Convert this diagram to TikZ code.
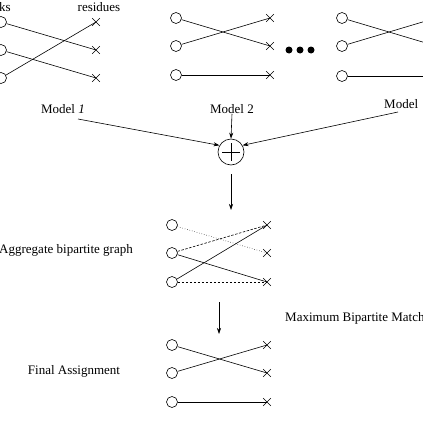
\documentclass[tikz,border=0pt]{standalone}
\usepackage{fontspec}
\setmainfont{Liberation Serif}
\usetikzlibrary{shapes.misc,arrows.meta}
\begin{document}
\begin{tikzpicture}[x=1pt,y=-1pt,
  res/.style={circle,draw,line width=0.6pt,inner sep=0pt,minimum size=11pt},
  aa/.style={cross out,draw,line width=0.6pt,inner sep=0pt,minimum size=7pt},
  lbl/.style={font=\fontsize{13}{15}\selectfont,inner sep=0pt},
  edge/.style={line width=0.6pt},
  arr/.style={line width=0.6pt,-{Stealth[length=6pt,width=4pt]}},
  dot/.style={circle,fill,inner sep=0pt,minimum size=7pt}]
\useasboundingbox (0,0) rectangle (423,423);
\clip (0,0) rectangle (423,423);
% group 1
\foreach \i/\y in {1/22,2/50,3/78}{
  \node[res] (a\i) at (1,\y) {};
  \node[aa] (b\i) at (96,\y) {};}
\node[lbl,anchor=base west] (lks) at (-1,12) {ks};
\node[lbl,anchor=base] (lres) at (99,12) {residues};
\draw[edge] (a1) -- (b2.center);
\draw[edge] (a2) -- (b3.center);
\draw[edge] (a3) -- (b1.center);
% group 2
\foreach \i/\y in {1/18,2/46,3/75}{
  \node[res] (c\i) at (176,\y) {};
  \node[aa] (d\i) at (270,\y) {};}
\draw[edge] (c1) -- (d2.center);
\draw[edge] (c2) -- (d1.center);
\draw[edge] (c3) -- (d3.center);
% dots
\node[dot] (p1) at (289,50) {};
\node[dot] (p2) at (300,50) {};
\node[dot] (p3) at (311,50) {};
% group 3
\foreach \i/\y in {1/18,2/46,3/76}{
  \node[res] (e\i) at (342,\y) {};
  \coordinate (f\i) at (436,\y);}
\draw[edge] (e1) -- (f2);
\draw[edge] (e2) -- (f1);
\draw[edge] (e3) -- (f3);
% model labels
\node[lbl] (m1) at (63,109) {Model \textit{1}};
\node[lbl] (m2) at (232,109) {Model 2};
\node[lbl,anchor=west] (m3) at (384,104) {Model};
\node[circle,draw,line width=0.6pt,minimum size=26pt,inner sep=0pt] (plus) at (231,152) {};
\draw[line width=0.6pt] (plus.center) ++(-9,0) -- ++(18,0);
\draw[line width=0.6pt] (plus.center) ++(0,-9) -- ++(0,18);
\coordinate (s1) at (78,119);
\coordinate (s3) at (398,112);
\draw[arr] (s1) -- (plus.150);
\draw[arr] (m2.south) -- (plus.north);
\draw[arr] (s3) -- (plus.30);
\coordinate (t1) at (231,174);
\coordinate (t2) at (231,210);
\draw[arr] (t1) -- (t2);
% aggregate
\foreach \i/\y in {1/225,2/253,3/282}{
  \node[res] (g\i) at (172,\y) {};
  \node[aa] (h\i) at (267,\y) {};}
\draw[line width=0.5pt,dotted] (g1) -- (h2.center);
\draw[edge,dash pattern=on 2.5pt off 1.5pt] (g2) -- (h1.center);
\draw[edge] (g2) -- (h3.center);
\draw[edge] (g3) -- (h1.center);
\draw[edge,dash pattern=on 2.5pt off 1.5pt] (g3) -- (h3.center);
\node[lbl,anchor=east] (lagg) at (133,250) {Aggregate bipartite graph};
\coordinate (u1) at (219,302);
\coordinate (u2) at (219,334);
\draw[arr] (u1) -- (u2);
\node[lbl,anchor=west] (lmax) at (285,318) {Maximum Bipartite Match};
% final
\foreach \i/\y in {1/345,2/373,3/402}{
  \node[res] (k\i) at (172,\y) {};
  \node[aa] (l\i) at (267,\y) {};}
\draw[edge] (k1) -- (l2.center);
\draw[edge] (k2) -- (l1.center);
\draw[edge] (k3) -- (l3.center);
\node[lbl] (lfin) at (74,371) {Final Assignment};
\end{tikzpicture}
\end{document}
